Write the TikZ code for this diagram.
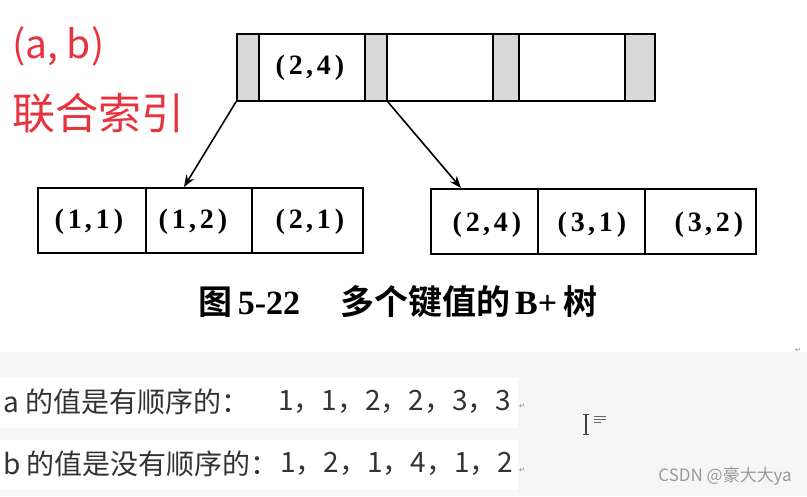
\documentclass[tikz,border=0pt]{standalone}
\usepackage{fontspec}
\setmainfont{Liberation Serif}
\newfontfamily\cjk{Noto Sans CJK SC}
\newfontfamily\cjkbold{Noto Sans CJK SC}[UprightFont=* Bold]
\newfontfamily\sym{DejaVu Sans}
\usetikzlibrary{arrows.meta}
\definecolor{redtxt}{HTML}{E8333F}
\definecolor{bggray}{HTML}{F6F6F6}
\definecolor{cellgray}{HTML}{D9D9D9}
\newcommand{\pr}[2]{(\kern4pt#1\kern3pt,\kern4pt#2\kern4pt)}
\tikzset{
  cell/.style={draw, line width=1.8pt, inner sep=0pt, anchor=north west, minimum height=67pt},
  gcell/.style={cell, fill=cellgray},
  leaf/.style={draw, line width=1.8pt, inner sep=0pt, anchor=north west, minimum height=65pt},
  key/.style={font=\bfseries\fontsize{28}{28}\selectfont, inner sep=0pt},
  ptr/.style={line width=1.6pt, -{Stealth[length=12pt,width=9pt]}},
  body/.style={font=\cjk\fontsize{28}{28}\selectfont, text=black!80, inner sep=0pt, anchor=west},
  retmark/.style={font=\sym\fontsize{7}{7}\selectfont, text=gray, inner sep=0pt}
}
\begin{document}
\begin{tikzpicture}[x=1pt,y=-1pt]
\useasboundingbox (0,0) rectangle (807,496);
\fill[white] (0,0) rectangle (807,496);
% lower document area
\fill[bggray] (0,352) rectangle (807,496);
\fill[white] (0,378) rectangle (518,428);
\fill[white] (0,440) rectangle (518,490);

% red label
\node[font=\cjk\fontsize{39}{39}\selectfont, text=redtxt, anchor=west, inner sep=0pt] (ab) at (12,46) {(a,\ b)};
\node[font=\cjk\fontsize{43}{43}\selectfont, text=redtxt, anchor=west, inner sep=0pt] (lh) at (12,113) {联合索引};

% root node
\node[gcell, minimum width=22pt] (g1) at (236,33) {};
\node[cell, minimum width=106pt] (k1) at (258,33) {};
\node[gcell, minimum width=22pt] (g2) at (364,33) {};
\node[cell, minimum width=106pt] (k2) at (386,33) {};
\node[gcell, minimum width=26pt] (g3) at (492,33) {};
\node[cell, minimum width=106pt] (k3) at (518,33) {};
\node[gcell, minimum width=30pt] (g4) at (624,33) {};
\node[key] (t1) at (310,68) {\pr{2}{4}};

% left leaf
\node[leaf, minimum width=108pt] (l1) at (37,187) {};
\node[leaf, minimum width=106pt] (l2) at (145,187) {};
\node[leaf, minimum width=111pt] (l3) at (251,187) {};
\node[key] (lt1) at (89,222) {\pr{1}{1}};
\node[key] (lt2) at (193,222) {\pr{1}{2}};
\node[key] (lt3) at (310,222) {\pr{2}{1}};

% right leaf
\node[leaf, minimum width=107pt] (r1) at (430,188) {};
\node[leaf, minimum width=107pt] (r2) at (537,188) {};
\node[leaf, minimum width=111pt] (r3) at (644,188) {};
\node[key] (rt1) at (487,225) {\pr{2}{4}};
\node[key] (rt2) at (592,225) {\pr{3}{1}};
\node[key] (rt3) at (709,225) {\pr{3}{2}};

% pointers
\coordinate (e1) at (184,187);
\coordinate (e2) at (461,188);
\draw[ptr] (g1.south west) -- (e1);
\draw[ptr] (g2.south east) -- (e2);

% caption
\node[inner sep=0pt, font=\fontsize{34}{34}\selectfont] (cap) at (398,302)
  {{\cjkbold 图}\kern5pt\textbf{5-22}\hspace{40pt}{\cjkbold 多个键值的}\kern5pt\textbf{B+}\kern6pt{\cjkbold 树}};

% body text
\node[body] (a1) at (3,402) {a 的值是有顺序的：};
\node[body] (a2) at (278,402) {1，1，2，2，3，3};
\node[body] (b1) at (3,464) {b 的值是没有顺序的：};
\node[body] (b2) at (280,464) {1，2，1，4，1，2};
\node[retmark] (m1) at (522,406) {↵};
\node[retmark] (m2) at (522,470) {↵};
\node[retmark] (m3) at (798,350) {↵};

% text cursor
\draw[line width=1.4pt, black!75] (586,414) -- (586,434);
\draw[line width=1pt, black!75] (583,414) -- (589,414) (583,434) -- (589,434);
\draw[line width=0.7pt, black!60] (594,416) -- (606,416) (594,419) -- (606,419) (594,422) -- (601,422);

% watermark
\node[font=\cjk\fontsize{17}{17}\selectfont, text=black!40, anchor=east, inner sep=0pt] (wm) at (792,476) {CSDN @豪大大ya};
\end{tikzpicture}
\end{document}
